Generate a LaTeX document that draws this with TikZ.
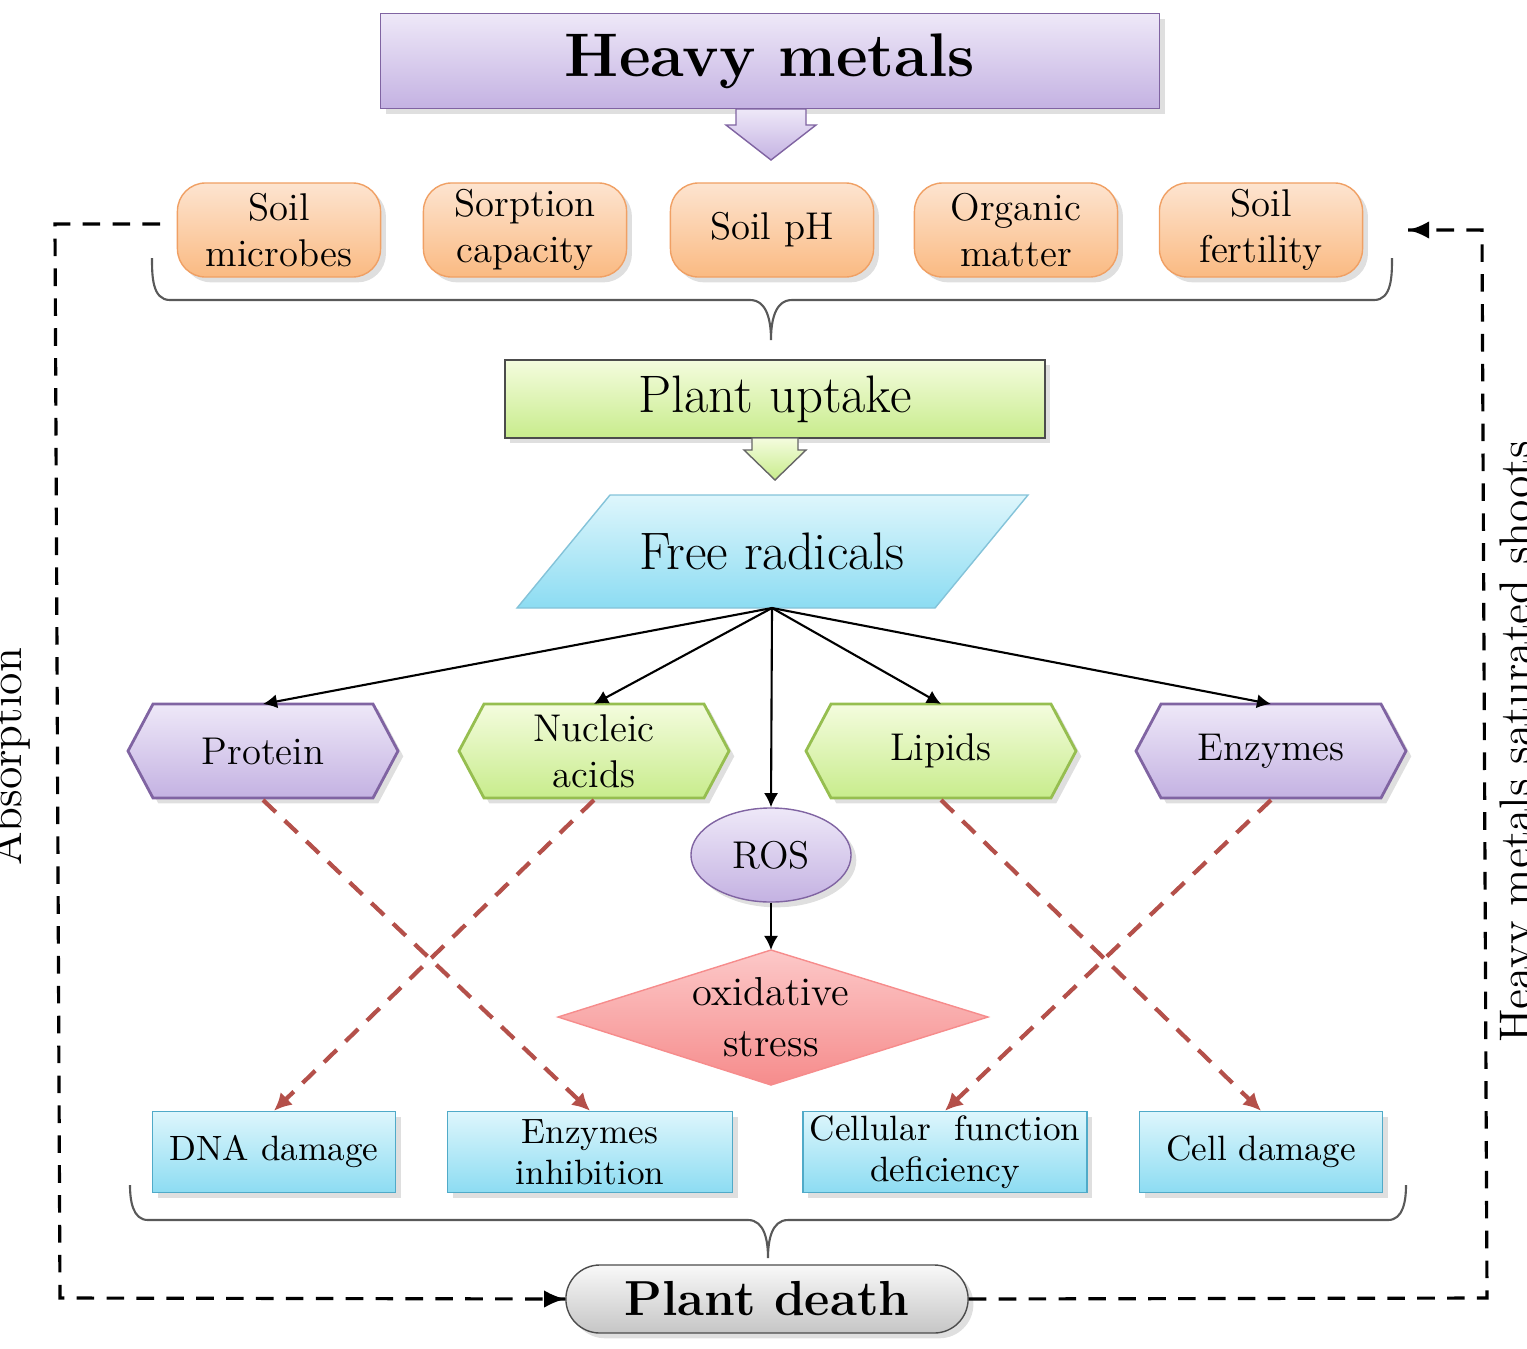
\documentclass[tikz,border=0pt]{standalone}
\usetikzlibrary{shapes.geometric,shapes.arrows,shadows,arrows.meta}
\definecolor{pt}{RGB}{238,232,248}\definecolor{pb}{RGB}{196,178,226}\definecolor{pd}{RGB}{128,100,162}
\definecolor{ot}{RGB}{253,228,208}\definecolor{ob}{RGB}{250,186,130}\definecolor{od}{RGB}{240,160,100}
\definecolor{ct}{RGB}{222,246,252}\definecolor{cb}{RGB}{140,220,242}\definecolor{cd}{RGB}{80,170,200}
\definecolor{gt}{RGB}{244,252,222}\definecolor{gb}{RGB}{200,236,140}\definecolor{gd}{RGB}{150,190,80}
\definecolor{rt}{RGB}{252,200,200}\definecolor{rb}{RGB}{246,140,140}
\definecolor{rd}{RGB}{180,80,74}
\begin{document}
\begin{tikzpicture}[x=0.01cm,y=-0.01cm,
  sh/.style={drop shadow={opacity=0.25,shadow xshift=1.5pt,shadow yshift=-1.5pt}},
  purp/.style={top color=pt,bottom color=pb,draw=pd},
  cyn/.style={top color=ct,bottom color=cb,draw=cd},
  grn/.style={top color=gt,bottom color=gb,draw=gd},
  reda/.style={draw=rd,line width=1.2pt,dash pattern=on 5pt off 3.5pt,-{Latex[length=5pt,width=5pt]}},
  blk/.style={draw=black,line width=0.9pt,dash pattern=on 5pt off 3.5pt},
  arr/.style={-{Latex[length=4pt,width=4pt]},line width=0.6pt}]
\clip (0,0) rectangle (1527,1348);
\useasboundingbox (0,0) rectangle (1527,1348);
% heavy metals
\node[purp,sh,minimum width=7.79cm,minimum height=0.95cm,inner sep=0,font=\fontsize{17.5}{21}\selectfont\bfseries] (hm) at (770,61) {Heavy metals};
\path[purp] (736,109) -- (806,109) -- (806,125) -- (816,125) -- (771,160) -- (726,125) -- (736,125) -- cycle;
% orange boxes
\foreach \x/\t/\n in {279/{Soil\\microbes}/o1,525/{Sorption\\capacity}/o2,772/{Soil pH}/o3,1016/{Organic\\matter}/o4,1261/{Soil\\fertility}/o5}
  \node[top color=ot,bottom color=ob,draw=od,rounded corners=8pt,sh,minimum width=2.03cm,minimum height=0.94cm,inner sep=0,align=center,font=\fontsize{11}{13}\selectfont] (\n) at (\x,230) {\t};
% brace
\draw[gray!70!black,line width=0.6pt] (152,258) to[out=-90,in=180] (170,300) -- (750,300) to[out=0,in=90] (771,340) to[out=90,in=180] (792,300) -- (1374,300) to[out=0,in=-90] (1392,258);
% plant uptake
\node[grn,draw=black!70,sh,minimum width=5.4cm,minimum height=0.78cm,inner sep=0,font=\fontsize{15}{18}\selectfont] (pu) at (775,399) {Plant uptake};
\path[grn,draw=black!60] (752,438) -- (798,438) -- (798,450) -- (806,450) -- (775,480) -- (744,450) -- (752,450) -- cycle;
% free radicals
\path[cyn,draw=cd!70] (610,495) -- (1028,495) -- (935,608) -- (517,608) -- cycle;
\node[font=\fontsize{15}{18}\selectfont] (fr) at (772,551) {Free radicals};
\coordinate (frb) at (772,608);
% hexagons
\foreach \x/\t/\n/\s in {263/{Protein}/p1/purp,594/{Nucleic\\acids}/p2/grn,941/{Lipids}/p3/grn,1271/{Enzymes}/p4/purp}{
  \path[\s,sh,line width=0.8pt] (\x-135,751) -- (\x-110,704) -- (\x+110,704) -- (\x+135,751) -- (\x+110,798) -- (\x-110,798) -- cycle;
  \node[align=center,font=\fontsize{11}{13}\selectfont] (\n) at (\x,751) {\t};
  \coordinate (\n t) at (\x,704);
  \coordinate (\n b) at (\x,800);
}
% ROS
\node[ellipse,purp,sh,minimum width=1.6cm,minimum height=0.94cm,inner sep=0,font=\fontsize{11}{13}\selectfont] (ros) at (771,855) {ROS};
% diamond
\path[top color=rt,bottom color=rb,draw=rb] (558,1017) -- (771,950) -- (988,1017) -- (771,1085) -- cycle;
\node[align=center,font=\fontsize{11.5}{14.5}\selectfont] (ox) at (771,1017) {oxidative\\stress};
\coordinate (oxt) at (771,950);
% arrows
\foreach \n in {p1t,p2t,p3t,p4t} \draw[arr] (frb) -- (\n);
\draw[arr] (frb) -- (ros.north);
\draw[arr] (ros.south) -- (oxt);
% bottom boxes
\foreach \x/\w/\t/\n in {274/2.43/{DNA damage}/b1,590/2.85/{Enzymes\\inhibition}/b2,945/2.84/{Cellular\ \ function\\deficiency}/b3,1261/2.43/{Cell damage}/b4}{
  \node[cyn,sh,minimum width=\w cm,minimum height=0.81cm,inner sep=0,align=center,font=\fontsize{10}{11.5}\selectfont] (\n) at (\x,1152) {\t};
}
\draw[reda] (p1b) -- (b2.north);
\draw[reda] (p2b) -- (b1.north);
\draw[reda] (p3b) -- (b4.north);
\draw[reda] (p4b) -- (b3.north);
% brace 2
\draw[gray!70!black,line width=0.6pt] (130,1185) to[out=-90,in=180] (148,1220) -- (748,1220) to[out=0,in=90] (768,1258) to[out=90,in=180] (788,1220) -- (1388,1220) to[out=0,in=-90] (1406,1185);
% plant death
\node[rounded corners=0.34cm,top color=gray!5,bottom color=gray!45,draw=black!70,sh,minimum width=4.02cm,minimum height=0.68cm,inner sep=0,font=\fontsize{14}{17}\selectfont\bfseries] (pd) at (767,1299) {Plant death};
% feedback loops
\coordinate (l1) at (160,224); \coordinate (l2) at (55,224); \coordinate (l3) at (60,1298);
\draw[blk] (l1) -- (l2) -- (l3) -- (pd.west);
\draw[-{Latex[length=6pt,width=5pt]},line width=0.9pt] ([xshift=-6pt]pd.west) -- (pd.west);
\coordinate (r1) at (1487,1298); \coordinate (r2) at (1482,230); \coordinate (r3) at (1408,230);
\draw[blk] (pd.east) -- (r1) -- (r2) -- (r3);
\draw[-{Latex[length=6pt,width=5pt]},line width=0.9pt] ([xshift=6pt]r3) -- (r3);
\node[rotate=90,font=\fontsize{13}{15}\selectfont] (abs) at (10,757) {Absorption};
\node[rotate=90,font=\fontsize{13}{15}\selectfont] (hms) at (1520,742) {Heavy metals saturated shoots};
\end{tikzpicture}
\end{document}
